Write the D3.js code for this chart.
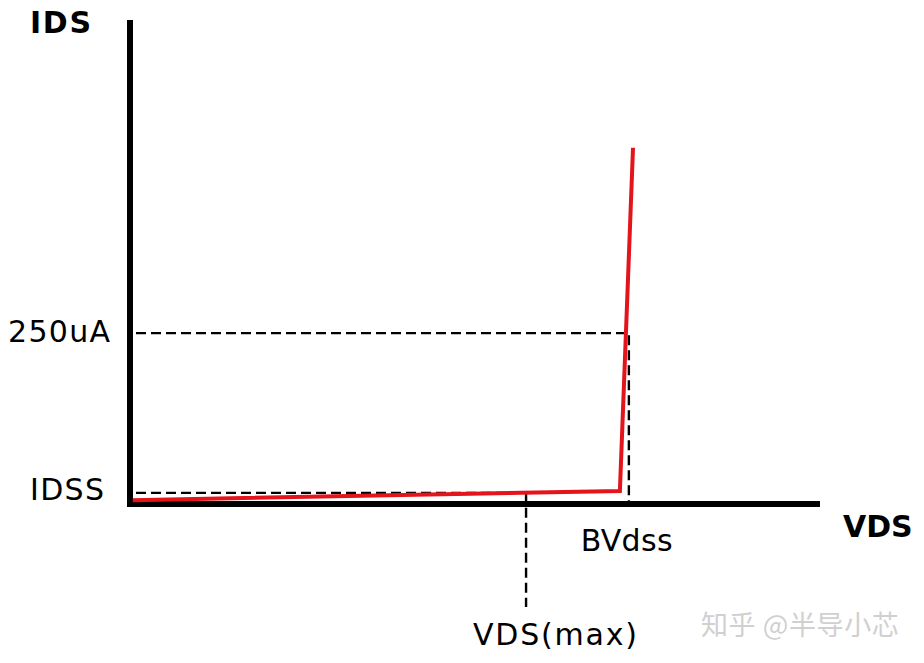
<!DOCTYPE html>
<html>
<head>
<meta charset="utf-8">
<script src="https://cdn.jsdelivr.net/npm/d3@7"></script>
<style>
  body { margin: 0; background: #fff; }
  svg text { font-family: "DejaVu Sans", Verdana, sans-serif; }
</style>
</head>
<body>
<div class="chart"></div>
<script>
// curve of the MOSFET breakdown sketch (arbitrary units, 0..100 on each axis)
const curveVds = [0.4, 71.0, 72.9];
const curveIds = [0.8, 2.7, 73.6];

// reference levels
const ids250 = 35.3;   // 250uA
const idss = 2.3;      // IDSS
const vdsMax = 57.4;   // VDS(max)
const bvdss = 72.3;    // BVdss

const yLabels = ["250uA", "IDSS"];
const xLabels = ["BVdss", "VDS(max)"];

const width = 924;
const height = 663;

const svg = d3.select(".chart")
  .append("svg")
  .attr("width", width)
  .attr("height", height);

// scales
const x = d3.scaleLinear().domain([0, 100]).range([130, 820]);
const y = d3.scaleLinear().domain([0, 100]).range([504, 20]);

// dashed guide lines
const dash = svg.append("g")
  .attr("stroke", "#000")
  .attr("stroke-width", 2.4)
  .attr("stroke-dasharray", "10,5")
  .attr("fill", "none");

dash.append("path")
  .attr("d", d3.line()([[x(0) + 6, y(ids250)], [x(bvdss), y(ids250)], [x(bvdss), y(0) + 3]]));

dash.append("path")
  .attr("d", d3.line()([[x(0) + 6, y(idss)], [x(vdsMax), y(idss)], [x(vdsMax), y(0) + 103]]));

// axes (plain thick lines, no ticks)
svg.append("line")
  .attr("x1", x(0)).attr("x2", x(0))
  .attr("y1", y(100)).attr("y2", y(0) + 3)
  .attr("stroke", "#000").attr("stroke-width", 6);

svg.append("line")
  .attr("x1", x(0) - 3).attr("x2", x(100))
  .attr("y1", y(0)).attr("y2", y(0))
  .attr("stroke", "#000").attr("stroke-width", 6);

// red curve
const pts = curveVds.map((v, i) => [x(v), y(curveIds[i])]);
svg.append("path")
  .attr("d", d3.line()(pts))
  .attr("fill", "none")
  .attr("stroke", "#e3141b")
  .attr("stroke-width", 4)
  .attr("stroke-linejoin", "miter");

// axis titles
svg.append("text")
  .attr("x", 30).attr("y", 33)
  .attr("font-size", 30).attr("font-weight", "bold")
  .attr("letter-spacing", 1.7)
  .text("IDS");

svg.append("text")
  .attr("x", 843).attr("y", 537)
  .attr("font-size", 30).attr("font-weight", "bold")
  .text("VDS");

// y labels
svg.append("text")
  .attr("x", 8).attr("y", y(ids250) + 9)
  .attr("font-size", 30)
  .attr("letter-spacing", 1.3)
  .text(yLabels[0]);

svg.append("text")
  .attr("x", 30).attr("y", y(idss) + 7)
  .attr("font-size", 30)
  .attr("letter-spacing", 1.3)
  .text(yLabels[1]);

// x labels
svg.append("text")
  .attr("x", x(bvdss) - 2).attr("y", y(0) + 47)
  .attr("text-anchor", "middle")
  .attr("font-size", 30)
  .attr("letter-spacing", 0.4)
  .text(xLabels[0]);

svg.append("text")
  .attr("x", 473).attr("y", y(0) + 141)
  .attr("font-size", 30)
  .attr("letter-spacing", 1.8)
  .text(xLabels[1]);

// watermark
svg.append("text")
  .attr("x", 701).attr("y", 635)
  .attr("font-size", 27)
  .attr("letter-spacing", 0.6)
  .attr("fill", "#d0d0d0")
  .style("font-family", "'Noto Sans CJK SC', sans-serif")
  .text("知乎 @半导小芯");
</script>
</body>
</html>
